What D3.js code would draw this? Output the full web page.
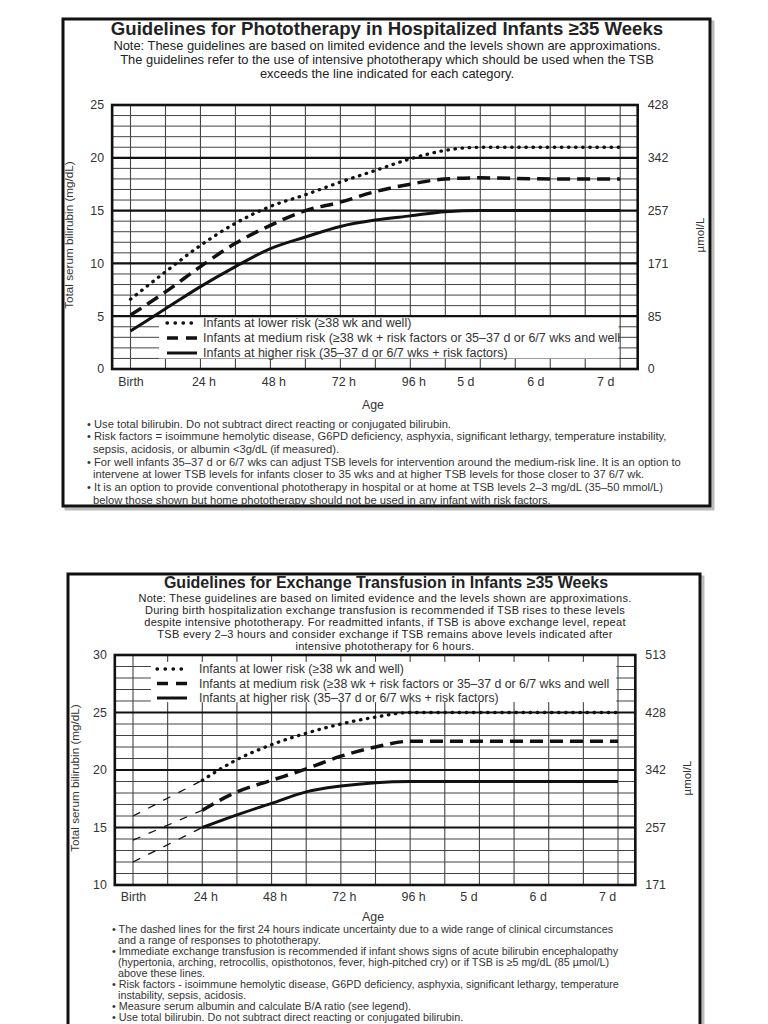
<!DOCTYPE html>
<html>
<head>
<meta charset="utf-8">
<script src="https://cdn.jsdelivr.net/npm/d3@7"></script>
<style>
  body { margin: 0; background: #fff; }
  svg text { font-family: "Liberation Sans", Arial, Helvetica, sans-serif; fill: #222; }
</style>
</head>
<body>
<script>
// ---- data ----
const hours = [0, 12, 24, 36, 48, 60, 72, 84, 96, 108, 120, 144, 168];
const photoLow  = [6.6, 9.2, 11.7, 13.8, 15.4, 16.5, 17.7, 18.8, 19.9, 20.7, 21.0, 21.0, 21.0];
const photoMed  = [5.1, 7.3, 9.7, 11.9, 13.6, 15.0, 15.8, 16.8, 17.5, 18.0, 18.1, 18.0, 18.0];
const photoHigh = [3.6, 5.7, 7.8, 9.7, 11.4, 12.5, 13.5, 14.1, 14.5, 14.9, 15.0, 15.0, 15.0];

const exHours = [24, 36, 48, 60, 72, 84, 96, 120, 144, 168];
const exLow  = [19.1, 20.9, 22.2, 23.2, 24.0, 24.6, 25.0, 25.0, 25.0, 25.0];
const exMed  = [16.5, 18.1, 19.1, 20.1, 21.2, 22.0, 22.5, 22.5, 22.5, 22.5];
const exHigh = [15.0, 16.1, 17.1, 18.1, 18.6, 18.9, 19.0, 19.0, 19.0, 19.0];
// uncertain first 24 h (thin dashed)
const earlyHours = [0, 24];
const exLowEarly  = [16.0, 19.1];
const exMedEarly  = [13.9, 16.5];
const exHighEarly = [12.0, 15.0];

const xTickHours  = [0, 24, 48, 72, 96, 120, 144, 168];
const xTickLabels = ["Birth", "24 h", "48 h", "72 h", "96 h", "5 d", "6 d", "7 d"];
const photoTicks = [0, 5, 10, 15, 20, 25];
const photoUmol  = ["0", "85", "171", "257", "342", "428"];
const exTicks = [10, 15, 20, 25, 30];
const exUmol  = ["171", "257", "342", "428", "513"];

const legendLabels = [
  "Infants at lower risk (\u226538 wk and well)",
  "Infants at medium risk (\u226538 wk + risk factors or 35\u201337 d or 6/7 wks and well",
  "Infants at higher risk (35\u201337 d or 6/7 wks + risk factors)"
];

const svg = d3.select("body")
    .append("svg")
    .attr("width", 768)
    .attr("height", 1024);

// line looks
const styles = [
  { w: 3.3, dash: "0.5,6.6", cap: "round" },   // lower risk, dotted
  { w: 3.5, dash: "13,7",    cap: "butt" },    // medium risk, dashed
  { w: 3.0, dash: null,      cap: "butt" }     // higher risk, solid
];

function frame(x, y, w, h) {
  svg.append("rect").attr("x", x + 3).attr("y", y + 3).attr("width", w).attr("height", h)
      .attr("fill", "none").attr("stroke", "#bbb").attr("stroke-width", 3);
  svg.append("rect").attr("x", x).attr("y", y).attr("width", w).attr("height", h)
      .attr("fill", "#fff").attr("stroke", "#111").attr("stroke-width", 3);
}

function textLines(lines, cx, y0, step, size, weight, spacing) {
  svg.append("g").selectAll("text")
      .data(lines)
      .enter()
      .append("text")
      .attr("x", cx)
      .attr("y", (d, i) => y0 + i * step)
      .attr("text-anchor", "middle")
      .style("font-size", size + "px")
      .style("font-weight", weight || "normal")
      .style("letter-spacing", (spacing || 0) + "px")
      .text(d => d);
}

function bullets(lines, x, y0, step, size) {
  svg.append("g").selectAll("text")
      .data(lines)
      .enter()
      .append("text")
      .attr("x", d => d.startsWith("\u2022") ? x : x + 6)
      .attr("y", (d, i) => y0 + i * step)
      .style("font-size", size + "px")
      .style("fill", "#333")
      .text(d => d);
}

function drawPanel(p) {
  const x = d3.scaleLinear().domain([0, 168]).range([p.birthX, p.endX]);
  const y = d3.scaleLinear().domain(p.yDomain).range([p.bottom, p.top]);
  const left = x(-6.3), right = x(174);
  const g = svg.append("g");

  // minor grid
  g.selectAll(".hminor")
      .data(d3.range(p.yDomain[0] + 1, p.yDomain[1]))
      .enter().append("line")
      .attr("x1", left).attr("x2", right)
      .attr("y1", d => y(d)).attr("y2", d => y(d))
      .attr("stroke", "#444").attr("stroke-width", 1);
  g.selectAll(".vminor")
      .data(d3.range(0, 169, 12))
      .enter().append("line")
      .attr("x1", d => x(d)).attr("x2", d => x(d))
      .attr("y1", p.top).attr("y2", p.bottom)
      .attr("stroke", "#444").attr("stroke-width", 1.1);

  // white legend box hides the grid behind it
  g.append("rect")
      .attr("x", x(p.legendBox[0])).attr("width", x(p.legendBox[1]) - x(p.legendBox[0]))
      .attr("y", y(p.legendBox[2])).attr("height", y(p.legendBox[3]) - y(p.legendBox[2]))
      .attr("fill", "#fff");

  // heavy grid every 5 mg/dL
  g.selectAll(".hmajor")
      .data(p.majors)
      .enter().append("line")
      .attr("x1", left).attr("x2", right)
      .attr("y1", d => y(d)).attr("y2", d => y(d))
      .attr("stroke", "#111").attr("stroke-width", 2.2);

  g.append("rect")
      .attr("x", left).attr("y", p.top)
      .attr("width", right - left).attr("height", p.bottom - p.top)
      .attr("fill", "none").attr("stroke", "#111").attr("stroke-width", 2.6);

  // axes
  const axL = g.append("g").attr("transform", `translate(${left},0)`)
      .call(d3.axisLeft(y).tickValues(p.ticks).tickSize(0).tickPadding(8));
  const axR = g.append("g").attr("transform", `translate(${right},0)`)
      .call(d3.axisRight(y).tickValues(p.ticks).tickSize(0).tickPadding(10)
          .tickFormat((d, i) => p.umol[i]));
  const axB = g.append("g").attr("transform", `translate(0,${p.bottom})`)
      .call(d3.axisBottom(x).tickValues(xTickHours).tickSize(0).tickPadding(p.xPad)
          .tickFormat((d, i) => xTickLabels[i]));
  [axL, axR, axB].forEach(a => {
    a.select(".domain").remove();
    a.selectAll("text").style("font-size", "12.4px").style("fill", "#333")
        .style("font-family", '"Liberation Sans", Arial, sans-serif');
  });
  axB.selectAll("text").attr("dx", d => d >= 120 ? p.dayDx : (d > 0 ? 3 : 0));

  g.append("text")
      .attr("transform", `translate(${p.yLabelX},${(p.top + p.bottom) / 2 + p.yLabelShift}) rotate(-90)`)
      .attr("text-anchor", "middle")
      .style("font-size", "11.7px").style("fill", "#333")
      .text("Total serum bilirubin (mg/dL)");
  g.append("text")
      .attr("transform", `translate(${p.umolX},${(p.top + p.bottom) / 2 + p.yLabelShift}) rotate(-90)`)
      .attr("text-anchor", "middle")
      .style("font-size", "11.5px").style("fill", "#333")
      .text("\u00b5mol/L");
  g.append("text")
      .attr("x", (left + right) / 2 - 2).attr("y", p.ageY)
      .attr("text-anchor", "middle")
      .style("font-size", "12.3px").style("fill", "#333")
      .text("Age");

  // curves
  const line = d3.line()
      .x(d => x(d[0]))
      .y(d => y(d[1]))
      .curve(d3.curveMonotoneX);

  p.early.forEach(vals => {
    g.append("path")
        .datum(earlyHours.map((h, i) => [h, vals[i]]))
        .attr("d", d3.line().x(d => x(d[0])).y(d => y(d[1])))
        .attr("fill", "none").attr("stroke", "#111")
        .attr("stroke-width", 1.3).attr("stroke-dasharray", "8,9");
  });

  p.series.forEach((vals, k) => {
    const s = styles[k];
    g.append("path")
        .datum(p.hours.map((h, i) => [h, vals[i]]))
        .attr("d", line)
        .attr("fill", "none").attr("stroke", "#111")
        .attr("stroke-width", s.w)
        .attr("stroke-linecap", s.cap)
        .attr("stroke-dasharray", s.dash);
  });

  // legend
  const lg = g.append("g");
  legendLabels.forEach((t, k) => {
    const s = styles[k];
    const ly = p.legendY + k * p.legendStep;
    lg.append("line")
        .attr("x1", p.legendX).attr("x2", p.legendX + 30)
        .attr("y1", ly).attr("y2", ly)
        .attr("stroke", "#111").attr("stroke-width", s.w)
        .attr("stroke-linecap", s.cap)
        .attr("stroke-dasharray", k === 0 ? "0.5,7.5" : (k === 1 ? "11,8" : null));
    lg.append("text")
        .attr("x", p.legendX + p.legendGap).attr("y", ly + 4)
        .style("font-size", p.legendSize + "px").style("fill", "#333")
        .text(t);
  });
}

// ---------- top panel: phototherapy ----------
frame(63, 19, 647, 487);
textLines(["Guidelines for Phototherapy in Hospitalized Infants \u226535 Weeks"], 387, 34.5, 0, 18.6, "bold");
textLines([
  "Note: These guidelines are based on limited evidence and the levels shown are approximations.",
  "The guidelines refer to the use of intensive phototherapy which should be used when the TSB",
  "exceeds the line indicated for each category."
], 387, 50, 13.8, 12.9);

drawPanel({
  birthX: 130.5, endX: 620.2, top: 105, bottom: 369, yDomain: [0, 25],
  majors: [5, 10, 15, 20], ticks: photoTicks, umol: photoUmol,
  hours: hours, series: [photoLow, photoMed, photoHigh], early: [],
  legendBox: [9.8, 167.4, 5, 1], legendX: 167, legendY: 323, legendStep: 15,
  legendGap: 36, legendSize: 12.5,
  yLabelX: 73, umolX: 704, yLabelShift: -2, ageY: 409, xPad: 8, dayDx: -15
});

bullets([
  "\u2022 Use total bilirubin.  Do not subtract direct reacting or conjugated bilirubin.",
  "\u2022 Risk factors = isoimmune hemolytic disease, G6PD deficiency, asphyxia, significant lethargy, temperature instability,",
  "sepsis, acidosis, or albumin <3g/dL (if measured).",
  "\u2022 For well infants 35\u201337 d or 6/7 wks can adjust TSB levels for intervention around the medium-risk line. It is an option to",
  "intervene at lower TSB levels for infants closer to 35 wks and at higher TSB levels for those closer to 37 6/7 wk.",
  "\u2022 It is an option to provide conventional phototherapy in hospital or at home at TSB levels 2\u20133 mg/dL (35\u201350 mmol/L)",
  "below those shown but home phototherapy should not be used in any infant with risk factors."
], 87, 427.5, 12.7, 11.2);

// ---------- bottom panel: exchange transfusion ----------
frame(68, 574, 632, 470);
textLines(["Guidelines for Exchange Transfusion in Infants \u226535 Weeks"], 386, 588, 0, 16, "bold");
textLines([
  "Note: These guidelines are based on limited evidence and the levels shown are approximations.",
  "During birth hospitalization exchange transfusion is recommended if TSB rises to these levels",
  "despite intensive phototherapy. For readmitted infants, if TSB is above exchange level, repeat",
  "TSB every 2\u20133 hours and consider exchange if TSB remains above levels indicated after",
  "intensive phototherapy for 6 hours."
], 385, 602.2, 11.9, 11, "normal", 0.28);

drawPanel({
  birthX: 133, endX: 618, top: 655, bottom: 885, yDomain: [10, 30],
  majors: [15, 20, 25], ticks: exTicks, umol: exUmol,
  hours: exHours, series: [exLow, exMed, exHigh],
  early: [exLowEarly, exMedEarly, exHighEarly],
  legendBox: [6.2, 167.4, 29.4, 25.9], legendX: 157, legendY: 669, legendStep: 14.5,
  legendGap: 42, legendSize: 12.3,
  yLabelX: 79, umolX: 691, yLabelShift: 8, ageY: 921, xPad: 7, dayDx: -11
});

bullets([
  "\u2022 The dashed lines for the first 24 hours indicate uncertainty due to a wide range of clinical circumstances",
  "and a range of responses to phototherapy.",
  "\u2022 Immediate exchange transfusion is recommended if infant shows signs of acute bilirubin encephalopathy",
  "(hypertonia, arching, retrocollis, opisthotonos, fever, high-pitched cry) or if TSB is \u22655 mg/dL (85 \u00b5mol/L)",
  "above these lines.",
  "\u2022 Risk factors - isoimmune hemolytic disease, G6PD deficiency, asphyxia, significant lethargy, temperature",
  "instability, sepsis, acidosis.",
  "\u2022 Measure serum albumin and calculate B/A ratio (see legend).",
  "\u2022 Use total bilirubin.  Do not subtract direct reacting or conjugated bilirubin.",
  "\u2022 If infant is well and 35\u201337 6/7 wk (median risk) can individualize TSB levels for exchange based on actual gestational age."
], 112, 932.5, 11.1, 10.8);
</script>
</body>
</html>
